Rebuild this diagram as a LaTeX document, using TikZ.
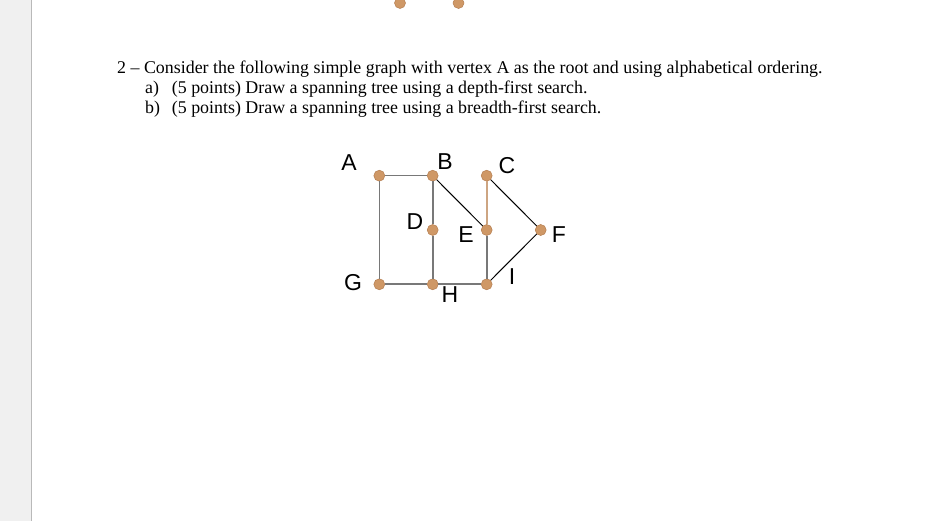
\documentclass[tikz,border=0pt]{standalone}
\usepackage{fontspec}
\setmainfont{Liberation Serif}
\newfontfamily\labelfont{Liberation Sans}
\definecolor{vertexfill}{RGB}{207,152,102}
\definecolor{vertexline}{RGB}{180,125,80}
\definecolor{edgegray}{RGB}{120,120,120}
\definecolor{edgetan}{RGB}{205,165,130}
\definecolor{stripgray}{RGB}{240,240,240}
\definecolor{stripline}{RGB}{185,185,185}

\begin{document}
\begin{tikzpicture}[x=1pt,y=-1pt,every node/.style={inner sep=0pt},
  vertex/.style={circle,draw=vertexline,fill=vertexfill,minimum size=11pt,line width=0.5pt},
  vlabel/.style={font=\labelfont\fontsize{23}{23}\selectfont},
  task/.style={anchor=base west,font=\fontsize{17.9}{20}\selectfont}]
\useasboundingbox (0,0) rectangle (927,521);
\fill[stripgray] (0,0) rectangle (31,521);
\draw[stripline] (31.5,0) -- (31.5,521);
% cut-off vertices at the top
\node (t1) at (400,3) [vertex]{};
\node (t2) at (458.5,3) [vertex]{};
% question text
\node (q) at (117,74) [task]{2 -- Consider the following simple graph with vertex A as the root and using alphabetical ordering.};
\node (qa) at (145,94) [task]{a)};
\node (qat) at (171.7,94) [task]{(5 points) Draw a spanning tree using a depth-first search.};
\node (qb) at (145,114) [task]{b)};
\node (qbt) at (171.7,114) [task]{(5 points) Draw a spanning tree using a breadth-first search.};
% vertices
\node (a) at (379.3,175.7) [vertex]{};
\node (b) at (432.7,175.7) [vertex]{};
\node (c) at (486.7,175.7) [vertex]{};
\node (d) at (432.7,230) [vertex]{};
\node (e) at (486.7,230) [vertex]{};
\node (f) at (540.7,230) [vertex]{};
\node (g) at (379.3,284.3) [vertex]{};
\node (h) at (432.7,284.3) [vertex]{};
\node (i) at (486.7,284.3) [vertex]{};
% vertex names
\node (la) at (349,163) [vlabel]{A};
\node (lb) at (445,162) [vlabel]{B};
\node (lc) at (507,166) [vlabel]{C};
\node (ld) at (415,222) [vlabel]{D};
\node (le) at (466,235) [vlabel]{E};
\node (lf) at (559,235) [vlabel]{F};
\node (lg) at (353,283) [vlabel]{G};
\node (lh) at (450,295) [vlabel]{H};
\node (li) at (512,277) [vlabel]{I};
% edges
\draw[edgegray,line width=1.6pt] (a) -- (b);
\draw[edgegray,line width=1.6pt] (a) -- (g);
\draw[edgegray,line width=1.6pt] (b) -- (d);
\draw[edgegray,line width=1.6pt] (d) -- (h);
\draw[edgegray,line width=1.6pt] (g) -- (h);
\draw[edgegray,line width=1.6pt] (h) -- (i);
\draw[edgegray,line width=1.6pt] (e) -- (i);
\draw[edgetan,line width=1.6pt] (c) -- (e);
\draw[black,line width=1pt] (b) -- (e);
\draw[black,line width=1pt] (c) -- (f);
\draw[black,line width=1pt] (f) -- (i);
\end{tikzpicture}
\end{document}
